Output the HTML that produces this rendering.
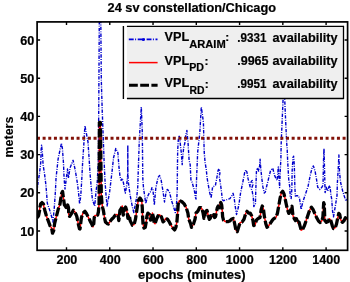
<!DOCTYPE html>
<html><head><meta charset="utf-8"><style>
html,body{margin:0;padding:0;background:#fff;}
body{width:350px;height:282px;overflow:hidden;}
svg{display:block;filter:blur(0.3px);}
text{font-family:"Liberation Sans", Arial, Helvetica, sans-serif;font-weight:bold;fill:#000;stroke:#000;stroke-width:0.2px;stroke-linejoin:round;}
</style></head><body>
<svg width="350" height="282" viewBox="0 0 350 282">
<rect width="350" height="282" fill="#fff"/>
<defs><clipPath id="c"><rect x="37.1" y="21.9" width="310.5" height="228.4"/></clipPath></defs>
<g clip-path="url(#c)" fill="none" stroke-linejoin="round">
<polyline points="37,192 38.1,182 39.5,173.5 40.8,162 41.1,150 41.6,145.3 42.5,155 43.1,165 44.5,173.5 45.9,184.9 46.6,193.4 47.3,203.3 50,211 52.6,220 53,222 54.5,205 55.5,190 56,178.4 58.1,159.2 60.3,148.5 61.5,143.2 62.4,148.5 63.5,163.5 64.1,178.4 65,189 67.5,169 68.5,178 70,168 73.1,160.3 75.2,169.9 77.3,182.6 78.4,191.2 79.6,203.8 80.7,196.4 81.6,182.6 82.7,161.3 83.7,146.4 84.9,125.7 86.3,133 88,142 89,157 90.1,174.1 91.2,186.9 92.4,199.6 94.7,206 96,192 97.2,182.3 98.4,160 98.8,100 99.3,21 100,-40 100.8,21 101.3,80 102.2,110 103.2,137 104.1,161.3 105.1,182.5 106.2,197 107.1,206 109.6,192 112,172 113.5,158 115.8,148.5 117.9,152.8 119,167.7 120,176.2 121.1,180.4 122.2,178.3 123.5,183 124.4,188 125.3,193 126.6,186 127.7,175 127.8,145.3 127.9,175 128.3,182 129.8,193 131,200 132.4,207 133.8,212.6 135.1,205.5 136.8,196.6 137.7,187.7 138.3,170 139.3,140 141.3,107 142.3,132.5 142.6,160 142.8,178.9 143.5,188 144.8,196.6 145.7,203.7 147.5,196.6 149.3,193 151,191.3 151.9,187.7 152.8,189.5 153.7,196.6 154.3,205 155.8,188.3 157.9,177.7 159.6,175.5 161.1,179.8 163.2,192.6 164.5,202 166.4,190.4 167.5,189.4 169.6,192.6 171.7,201 173.9,208 175.3,212.6 176.4,206.2 177.2,191.3 177.4,170 177.7,150 178.3,140 179.2,135.5 180.2,143 181.2,152 182.2,164.6 182.6,158.2 183.7,147.5 184.8,143.3 185.8,134.8 186.9,130.5 188.1,143.4 189.1,160.4 190.2,164.7 190.9,179.6 192.3,182.8 193.4,187 194.5,191.3 195.5,197.7 196,199 196.6,177.4 197.7,151.9 199.8,132.8 201.3,107 203.4,122 204.2,151.9 205.1,162.6 206.2,169 207.2,178.5 208.3,184.9 209.4,191.3 210.4,195.5 211.1,198 212.6,187 214.7,186 215.5,185 217.1,176.3 218.2,169.9 219.3,168.8 219.9,173.5 219.2,176.5 220.3,182.7 221.4,191.2 222.4,199.7 223.5,200.7 226.7,199.7 229.9,198.6 232,195.4 233.1,193.3 234.1,197.6 235.2,206.1 236.5,214.5 238.4,207 239.3,201.8 240.5,193.3 242.7,182.7 244.8,172 245.9,169.9 246.9,172 248,178.4 249,182.7 250.1,186.9 251.2,181.6 252.2,180.5 252.9,184.8 251.4,189 252.2,191.2 253.3,197.6 253.8,206.5 254.8,205 255.4,203.9 255.9,186.9 256.5,169.9 257.6,167.8 258.6,171 259.7,165.6 260.1,159.3 260.7,167.8 261.8,178.4 262.9,186.9 263.9,191.2 264.3,193 265.3,192 266.4,187.4 268.5,178.9 270.6,170.4 272.8,168.3 274.5,175.3 275.7,177.9 277,180.4 277.7,175 278.3,167 279,178 279.6,187.5 280.3,170 280.9,158 281.2,143 282.1,122 283.1,99 283.9,92 284.7,99 285.6,120 286.7,143 287.2,149.6 287.7,161.9 288.7,178.9 289.8,187.4 290.2,196 291.2,198.5 291.8,190 292.2,170 293,157.5 293.6,156.2 294.3,165 294.8,185 295.3,196 296.4,195.7 298.5,195.7 299.6,199 301.2,209.5 302.3,204 303.8,199 306,192.6 308.1,186.2 310.2,175.5 312.3,167 313.4,166 315.1,171.3 316.6,179.8 317.7,187.2 319.8,189.4 321.9,187.2 323,185.1 323.5,161.3 324,148.5 324.6,171.9 325.1,192.6 326.2,187.2 327.8,191.1 328.9,186.8 329.9,185.7 331,195.3 331.7,199.2 332.6,211.6 333.5,216.9 335.3,206.3 337,195.6 337.4,182.5 338.4,165.5 338.9,154.9 339.5,171.9 340.6,182.5 342.7,191.1 344.1,195.6 345.9,201 347.5,199" stroke="#0000cc" stroke-width="1.4" stroke-dasharray="3.4 1.3 0.9 1.3"/>
<polyline points="36.5,217.6 37.5,217.2 38.5,215.8 39.5,211 40,207 40.6,204 42,202.6 43.4,204 44,207 45,211 46.4,215.9 47.9,219.9 50.2,226.1 51.6,227.9 52.5,233.2 53.7,230.6 54.6,223.5 56.4,216.4 58.2,209.3 60,204 60.8,198.6 61.7,193.3 62.6,191.5 63.5,198.6 64.4,204.9 66.2,207.5 67.6,204.9 68.5,207.5 68.8,214.6 69.7,216.4 71.5,213.7 73.3,210.2 75,212 76.8,216.4 78.6,225.3 79.5,228.8 80,229 80.7,223.4 81.4,217.7 82.8,213.4 85,211.3 86.4,213.4 87.8,216.3 89.2,219.1 90.6,222 92.1,224.8 93,226.9 93.8,223.4 94.2,217.7 94.9,215.6 96.3,215.6 97.7,214.9 98.4,212 99.1,203.5 99.4,122.3 100.4,122.3 101.3,195 102,203.5 102.7,207.8 103.4,210.6 104.1,214.9 104.8,219.1 105.5,222 107,223.4 108.4,224.1 109.8,222 111.2,219.8 112,219 113.7,217.3 115.4,215 117.1,214.4 118.2,216.1 118.8,220.6 119.4,216.1 119.9,210.5 121.1,208.8 122.2,205.9 122.8,209.3 123.3,215 123.9,211.6 124.5,208.8 125.6,207.1 126.7,210.5 127.3,213.9 127.9,218.4 128.4,216.1 129,215 129.6,217.3 130.1,220.6 131.3,222.9 132.4,225.2 134.1,224.6 135.5,219 136.9,209.5 138.2,200.6 140,198 141.7,200.6 142.3,207.7 142.6,216.6 143,223.7 144,228.1 145.3,227.3 146.2,222 147,215.7 147.9,213.1 149.7,214.8 150.6,220.2 151.5,218.4 152.4,213.1 153.3,216.6 154.1,222.8 155,223.7 156.8,218.4 158.6,214.8 159.5,214.8 161.3,216.6 163.1,221.9 164,221 165.8,218.4 167.5,219.3 169.3,221.9 171.1,225.5 172.9,228.1 174.6,229.9 175.9,227.3 176.9,221.9 177.6,213.1 178.2,204.2 179.4,200.6 181.7,201.5 184.4,204.2 186.2,207.7 187.9,213.1 188.8,219.3 190.6,223.7 191.5,227.3 193.3,224.6 195,219.3 196,213 197.8,211.3 199.5,207.7 201,207.7 202.2,209.5 203.1,213.1 204,218.4 204.9,214.8 205.8,211.3 207,210.4 208,214.8 209.3,219.3 210.2,218.4 211.1,215.7 212.9,216.6 213.7,214.8 214.6,217.5 215.5,216.6 216.4,212.2 217.3,207.7 218.2,206 219.1,207.7 220,204.2 220.8,202.4 221.7,205.1 222.3,211.3 222.6,216.6 223.5,220.2 225.3,221.6 227.9,221.6 229.7,221 231.5,219.3 233.3,218.4 234.1,221 235,225.5 235.9,229.9 237.2,231.7 238.6,227.3 240,222.8 242.2,221.9 244,219.3 245.8,213.1 247,211.3 248.4,213.1 250.2,213.1 251.6,215.7 252.9,220.2 253.7,225.5 255.2,224.6 256.4,220.2 258.2,218.4 260,217.5 261.2,209.5 262.3,206 263.5,209.5 264.4,216.6 265.8,223.7 267,227.3 268.8,225.5 270.6,222.8 272.4,220.2 274.1,218.4 275.9,217.5 277.4,213.4 278.7,206.3 279.9,199.2 281.3,193 282.7,191.2 284,193.9 285.2,199.2 286.3,204.5 287.5,209.8 288.8,213.4 290.2,211.6 292,206.3 292.9,215.2 294.2,218.5 295.5,220.5 296.4,218.7 298.2,223.1 299,222 300,225.8 301.2,230.2 302.6,229.4 304.4,225.8 306.2,220.5 307.9,215.2 309.7,209.8 311.4,207.2 313.2,209.8 315,214 316.7,217.8 318.5,221 320.2,222.5 322,220.5 322.9,216.9 323.7,202.7 324.3,204.5 324.8,220.5 326.4,222.3 328.2,221.4 329.4,218.7 330.8,220.5 332.3,225.8 333.5,228.5 335.3,227.6 336.5,224 337.6,218.7 338.8,213.4 339.7,214.3 340.6,219.6 342.4,222.3 344.1,220.5 345.4,217.8 347.5,220" stroke="#f00" stroke-width="1.5"/>
<polyline points="36.5,217.6 37.5,217.2 38.5,215.8 39.5,211 40,207 40.6,204 42,202.6 43.4,204 44,207 45,211 46.4,215.9 47.9,219.9 50.2,226.1 51.6,227.9 52.5,233.2 53.7,230.6 54.6,223.5 56.4,216.4 58.2,209.3 60,204 60.8,198.6 61.7,193.3 62.6,191.5 63.5,198.6 64.4,204.9 66.2,207.5 67.6,204.9 68.5,207.5 68.8,214.6 69.7,216.4 71.5,213.7 73.3,210.2 75,212 76.8,216.4 78.6,225.3 79.5,228.8 80,229 80.7,223.4 81.4,217.7 82.8,213.4 85,211.3 86.4,213.4 87.8,216.3 89.2,219.1 90.6,222 92.1,224.8 93,226.9 93.8,223.4 94.2,217.7 94.9,215.6 96.3,215.6 97.7,214.9 98.4,212 99.1,203.5 99.4,122.3 100.4,122.3 101.3,195 102,203.5 102.7,207.8 103.4,210.6 104.1,214.9 104.8,219.1 105.5,222 107,223.4 108.4,224.1 109.8,222 111.2,219.8 112,219 113.7,217.3 115.4,215 117.1,214.4 118.2,216.1 118.8,220.6 119.4,216.1 119.9,210.5 121.1,208.8 122.2,205.9 122.8,209.3 123.3,215 123.9,211.6 124.5,208.8 125.6,207.1 126.7,210.5 127.3,213.9 127.9,218.4 128.4,216.1 129,215 129.6,217.3 130.1,220.6 131.3,222.9 132.4,225.2 134.1,224.6 135.5,219 136.9,209.5 138.2,200.6 140,198 141.7,200.6 142.3,207.7 142.6,216.6 143,223.7 144,228.1 145.3,227.3 146.2,222 147,215.7 147.9,213.1 149.7,214.8 150.6,220.2 151.5,218.4 152.4,213.1 153.3,216.6 154.1,222.8 155,223.7 156.8,218.4 158.6,214.8 159.5,214.8 161.3,216.6 163.1,221.9 164,221 165.8,218.4 167.5,219.3 169.3,221.9 171.1,225.5 172.9,228.1 174.6,229.9 175.9,227.3 176.9,221.9 177.6,213.1 178.2,204.2 179.4,200.6 181.7,201.5 184.4,204.2 186.2,207.7 187.9,213.1 188.8,219.3 190.6,223.7 191.5,227.3 193.3,224.6 195,219.3 196,213 197.8,211.3 199.5,207.7 201,207.7 202.2,209.5 203.1,213.1 204,218.4 204.9,214.8 205.8,211.3 207,210.4 208,214.8 209.3,219.3 210.2,218.4 211.1,215.7 212.9,216.6 213.7,214.8 214.6,217.5 215.5,216.6 216.4,212.2 217.3,207.7 218.2,206 219.1,207.7 220,204.2 220.8,202.4 221.7,205.1 222.3,211.3 222.6,216.6 223.5,220.2 225.3,221.6 227.9,221.6 229.7,221 231.5,219.3 233.3,218.4 234.1,221 235,225.5 235.9,229.9 237.2,231.7 238.6,227.3 240,222.8 242.2,221.9 244,219.3 245.8,213.1 247,211.3 248.4,213.1 250.2,213.1 251.6,215.7 252.9,220.2 253.7,225.5 255.2,224.6 256.4,220.2 258.2,218.4 260,217.5 261.2,209.5 262.3,206 263.5,209.5 264.4,216.6 265.8,223.7 267,227.3 268.8,225.5 270.6,222.8 272.4,220.2 274.1,218.4 275.9,217.5 277.4,213.4 278.7,206.3 279.9,199.2 281.3,193 282.7,191.2 284,193.9 285.2,199.2 286.3,204.5 287.5,209.8 288.8,213.4 290.2,211.6 292,206.3 292.9,215.2 294.2,218.5 295.5,220.5 296.4,218.7 298.2,223.1 299,222 300,225.8 301.2,230.2 302.6,229.4 304.4,225.8 306.2,220.5 307.9,215.2 309.7,209.8 311.4,207.2 313.2,209.8 315,214 316.7,217.8 318.5,221 320.2,222.5 322,220.5 322.9,216.9 323.7,202.7 324.3,204.5 324.8,220.5 326.4,222.3 328.2,221.4 329.4,218.7 330.8,220.5 332.3,225.8 333.5,228.5 335.3,227.6 336.5,224 337.6,218.7 338.8,213.4 339.7,214.3 340.6,219.6 342.4,222.3 344.1,220.5 345.4,217.8 347.5,220" stroke="#000" stroke-width="3.3" stroke-dasharray="8.8 2.4"/>
<line x1="36.95" y1="138.3" x2="347.6" y2="138.3" stroke="#821208" stroke-width="2.9" stroke-dasharray="3 2.66"/>
</g>
<rect x="37.1" y="21.9" width="310.5" height="228.4" fill="none" stroke="#000" stroke-width="1.7"/>
<path d="M66.50 250.3v-3M66.50 21.9v3M109.77 250.3v-3M109.77 21.9v3M153.03 250.3v-3M153.03 21.9v3M196.30 250.3v-3M196.30 21.9v3M239.57 250.3v-3M239.57 21.9v3M282.83 250.3v-3M282.83 21.9v3M326.10 250.3v-3M326.10 21.9v3M37.1 231.00h3M347.6 231.00h-3M37.1 192.80h3M347.6 192.80h-3M37.1 154.60h3M347.6 154.60h-3M37.1 116.40h3M347.6 116.40h-3M37.1 78.20h3M347.6 78.20h-3M37.1 40.00h3M347.6 40.00h-3" stroke="#000" stroke-width="1.4" fill="none"/>
<g font-size="12"><text x="56.43" y="264.00" font-size="12" textLength="20.92" lengthAdjust="spacingAndGlyphs">200</text><text x="99.80" y="264.00" font-size="12" textLength="20.92" lengthAdjust="spacingAndGlyphs">400</text><text x="142.93" y="264.00" font-size="12" textLength="20.92" lengthAdjust="spacingAndGlyphs">600</text><text x="186.23" y="264.00" font-size="12" textLength="20.92" lengthAdjust="spacingAndGlyphs">800</text><text x="225.84" y="264.00" font-size="12" textLength="27.90" lengthAdjust="spacingAndGlyphs">1000</text><text x="269.10" y="264.00" font-size="12" textLength="27.90" lengthAdjust="spacingAndGlyphs">1200</text><text x="312.37" y="264.00" font-size="12" textLength="27.90" lengthAdjust="spacingAndGlyphs">1400</text></g>
<g font-size="12"><text x="20.22" y="235.60" font-size="12.1" textLength="14.07" lengthAdjust="spacingAndGlyphs">10</text><text x="20.22" y="197.40" font-size="12.1" textLength="14.07" lengthAdjust="spacingAndGlyphs">20</text><text x="20.22" y="159.20" font-size="12.1" textLength="14.07" lengthAdjust="spacingAndGlyphs">30</text><text x="20.22" y="121.00" font-size="12.1" textLength="14.07" lengthAdjust="spacingAndGlyphs">40</text><text x="20.22" y="82.80" font-size="12.1" textLength="14.07" lengthAdjust="spacingAndGlyphs">50</text><text x="20.22" y="44.60" font-size="12.1" textLength="14.07" lengthAdjust="spacingAndGlyphs">60</text></g>
<text x="107.53" y="12.30" font-size="12.2" textLength="168.57" lengthAdjust="spacingAndGlyphs">24 sv constellation/Chicago</text>
<text x="138.12" y="278.80" font-size="12.3" textLength="107.44" lengthAdjust="spacingAndGlyphs">epochs (minutes)</text>
<g transform="translate(12.9 137) rotate(-90)"><text x="-20.57" y="0.00" font-size="12.1" textLength="40.93" lengthAdjust="spacingAndGlyphs" style="stroke-width:0.1px">meters</text></g>
<!-- legend -->
<line x1="123.4" y1="26" x2="123.4" y2="99" stroke="#000" stroke-width="1.4"/>
<rect x="126.9" y="26.4" width="216.6" height="72" fill="#efefef" stroke="none"/>
<line x1="126.9" y1="26.4" x2="343.5" y2="26.4" stroke="#000" stroke-width="1.3"/>
<line x1="126.9" y1="98.5" x2="343.5" y2="98.5" stroke="#000" stroke-width="1.3"/>
<line x1="343.5" y1="25.8" x2="343.5" y2="99.1" stroke="#000" stroke-width="1.3"/>
<line x1="128.8" y1="39.4" x2="157.5" y2="39.4" stroke="#0000dc" stroke-width="1.7" stroke-dasharray="4.9 1.4 1 1.6"/>
<circle cx="143.3" cy="39.4" r="1.5" fill="#0000dc"/>
<line x1="129" y1="62.6" x2="157.6" y2="62.6" stroke="#f00" stroke-width="1.5"/>
<line x1="129" y1="85.3" x2="157.6" y2="85.3" stroke="#000" stroke-width="3" stroke-dasharray="8.8 2.4"/>
<text x="164.55" y="41.30" font-size="12.6" textLength="24.61" lengthAdjust="spacingAndGlyphs">VPL</text>
<text x="189.19" y="48.30" font-size="10.6" textLength="36.54" lengthAdjust="spacingAndGlyphs">ARAIM</text>
<text x="225.21" y="41.20" font-size="11.4" textLength="3.97" lengthAdjust="spacingAndGlyphs">:</text>
<text x="237.26" y="41.60" font-size="12.6" textLength="29.14" lengthAdjust="spacingAndGlyphs">.9331</text>
<text x="272.50" y="41.60" font-size="12.6" textLength="65.09" lengthAdjust="spacingAndGlyphs">availability</text>
<text x="164.55" y="64.80" font-size="12.6" textLength="24.61" lengthAdjust="spacingAndGlyphs">VPL</text>
<text x="189.25" y="71.30" font-size="10.6" textLength="14.78" lengthAdjust="spacingAndGlyphs">PD</text>
<text x="204.41" y="65.20" font-size="11.4" textLength="3.97" lengthAdjust="spacingAndGlyphs">:</text>
<text x="237.21" y="65.10" font-size="12.6" textLength="31.32" lengthAdjust="spacingAndGlyphs">.9965</text>
<text x="272.50" y="65.10" font-size="12.6" textLength="65.09" lengthAdjust="spacingAndGlyphs">availability</text>
<text x="164.55" y="87.40" font-size="12.6" textLength="24.61" lengthAdjust="spacingAndGlyphs">VPL</text>
<text x="189.46" y="94.30" font-size="10.6" textLength="15.04" lengthAdjust="spacingAndGlyphs">RD</text>
<text x="204.86" y="88.00" font-size="11.4" textLength="3.97" lengthAdjust="spacingAndGlyphs">:</text>
<text x="237.26" y="87.70" font-size="12.6" textLength="29.14" lengthAdjust="spacingAndGlyphs">.9951</text>
<text x="272.50" y="87.70" font-size="12.6" textLength="65.09" lengthAdjust="spacingAndGlyphs">availability</text>
</svg>
</body></html>
